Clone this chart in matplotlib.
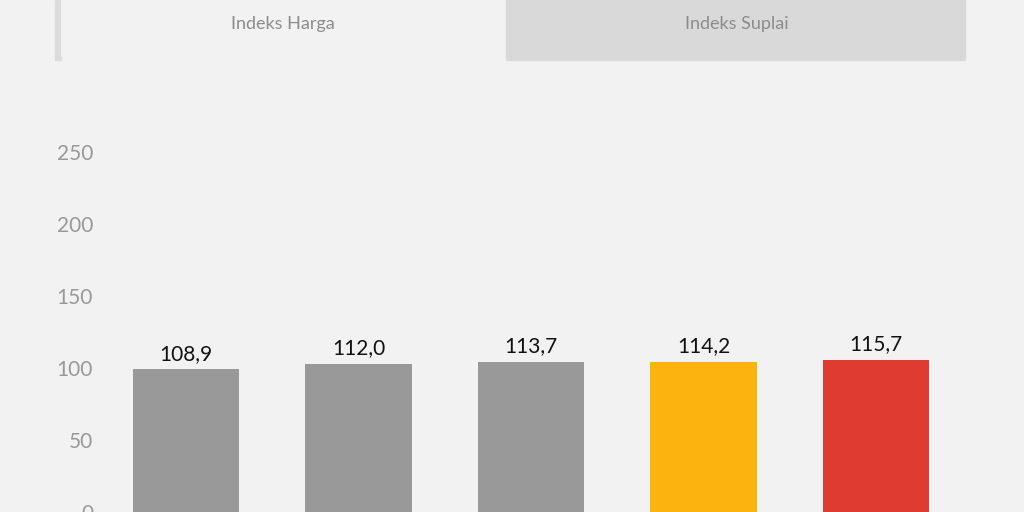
import matplotlib
matplotlib.use("Agg")
import matplotlib.pyplot as plt
from matplotlib.patches import Rectangle, FancyBboxPatch

categories = ["A", "B", "C", "D", "E"]
heights = [99, 103, 104, 104.5, 105.5]
labels = ["108,9", "112,0", "113,7", "114,2", "115,7"]
colors = ["#999999", "#999999", "#999999", "#fbb30e", "#e03b30"]
yticks = [0, 50, 100, 150, 200, 250]
tabs = ["Indeks Harga", "Indeks Suplai"]

W, H = 1024, 512
fig = plt.figure(figsize=(W/100, H/100), dpi=100, facecolor="#f2f2f2")
plt.rcParams['font.family'] = ['Lato', 'DejaVu Sans']

# tabs
fig.patches.append(Rectangle((55/W, 1-60/H), 6/W, 60/H, transform=fig.transFigure, color="#dcdcdc"))
fig.patches.append(FancyBboxPatch((61/W, 1-60/H), 445/W, 80/H, boxstyle="round,pad=0,rounding_size=0.01",
                                  transform=fig.transFigure, facecolor="#f2f2f2", edgecolor="none"))
fig.patches.append(Rectangle((506/W, 1-60/H), 459/W, 60/H, transform=fig.transFigure, color="#d9d9d9"))
fig.text(283/W, 1-24/H, tabs[0], ha="center", va="center", fontsize=13, color="#8c8c8c")
fig.text(737/W, 1-24/H, tabs[1], ha="center", va="center", fontsize=13, color="#8c8c8c")

ax = fig.add_axes([100/W, 0, 865/W, 432/H])
ax.set_facecolor("#f2f2f2")
x = list(range(len(categories)))
bars = ax.bar(x, heights, width=0.615, color=colors)
for xi, h, lab in zip(x, heights, labels):
    ax.text(xi, h + 4, lab, ha="center", va="bottom", fontsize=15, color="#111111")
ax.set_ylim(0, 300)
ax.set_xlim((100-186)/172.5, (965-186)/172.5)
ax.set_yticks(yticks)
ax.set_yticklabels([str(t) for t in yticks], fontsize=15, color="#999999")
ax.set_xticks([])
ax.tick_params(axis="y", length=0, pad=5)
for s in ax.spines.values():
    s.set_visible(False)
fig.savefig("out.png", dpi=100, facecolor="#f2f2f2")
